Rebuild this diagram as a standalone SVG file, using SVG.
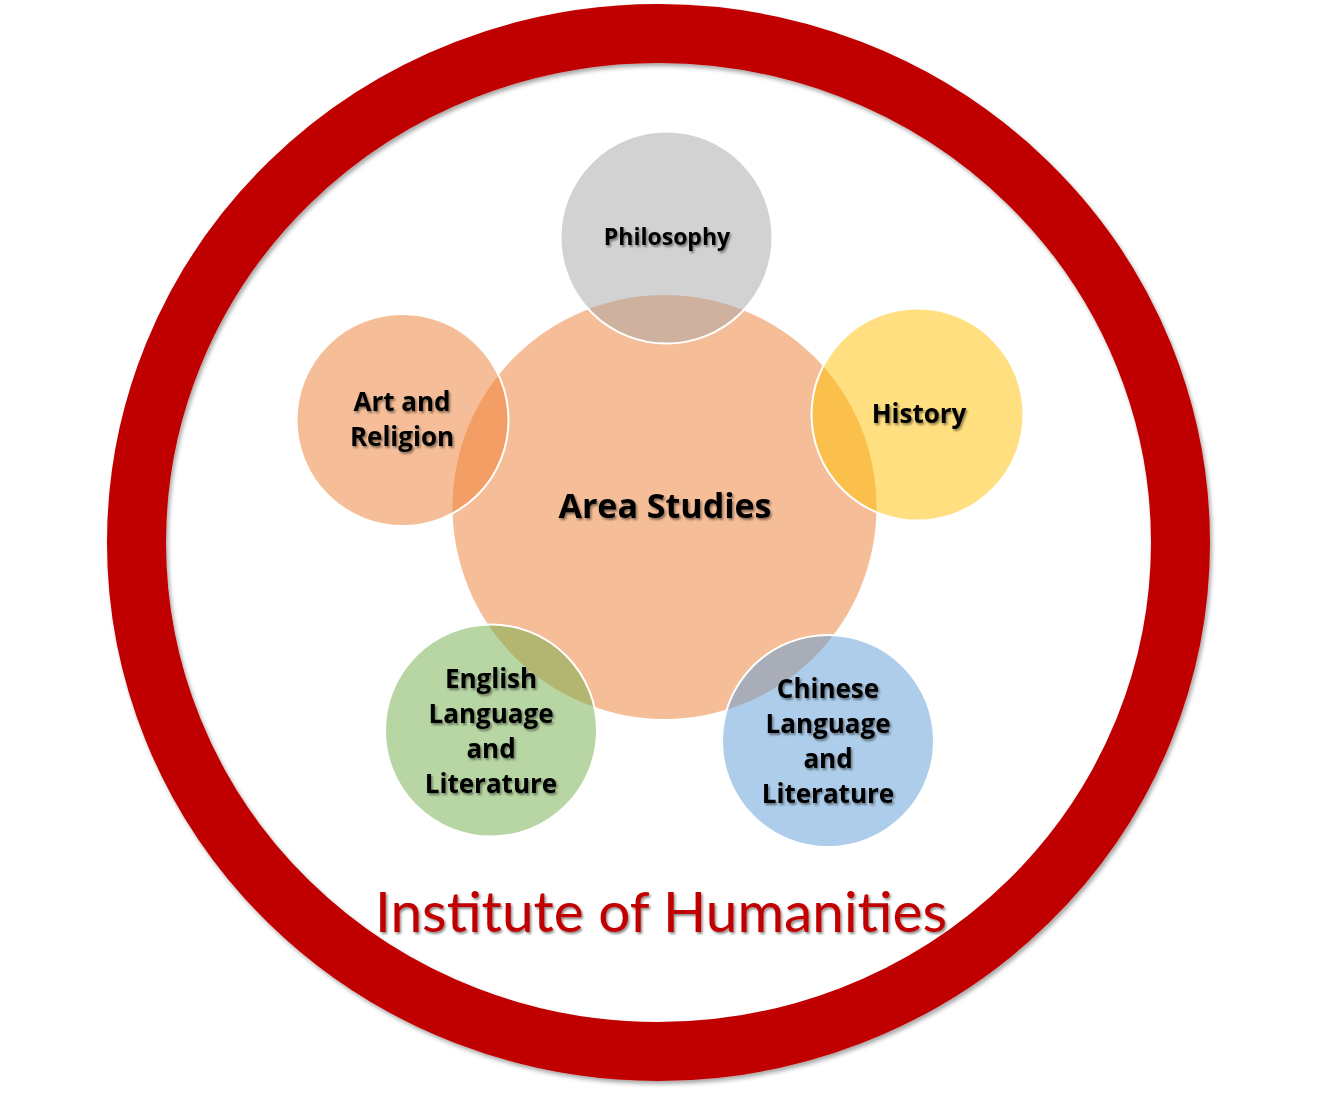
<svg xmlns="http://www.w3.org/2000/svg" width="1319" height="1094" viewBox="0 0 1319 1094">
<defs>
<filter id="sh" x="-10%" y="-10%" width="120%" height="120%">
<feDropShadow dx="2" dy="3" stdDeviation="2" flood-color="#000" flood-opacity="0.35"/>
</filter>
<filter id="tsh" x="-10%" y="-20%" width="120%" height="150%">
<feDropShadow dx="1.5" dy="2" stdDeviation="1.2" flood-color="#000" flood-opacity="0.45"/>
</filter>
</defs>
<style>
.lbl{font-family:"Open Sans","Noto Sans","Liberation Sans",sans-serif;font-weight:700;fill:#000;text-anchor:middle;filter:url(#tsh)}
.sat{stroke:#fff;stroke-width:2}
</style>
<rect width="1319" height="1094" fill="#fff"/>
<g id="ring">
<ellipse cx="658.5" cy="542.5" rx="522" ry="509" fill="none" stroke="#C00000" stroke-width="59" filter="url(#sh)"/>
</g>
<g id="area-studies">
<circle cx="664.5" cy="507" r="212" fill="#ED7D31" fill-opacity="0.5"/>
<text class="lbl" x="665" y="518" font-size="34">Area Studies</text>
</g>
<g id="philosophy">
<circle class="sat" cx="666.5" cy="237.5" r="106" fill="#A5A5A5" fill-opacity="0.5"/>
<text class="lbl" x="667" y="245" font-size="23">Philosophy</text>
</g>
<g id="history">
<circle class="sat" cx="917.5" cy="414.5" r="106" fill="#FFC000" fill-opacity="0.5"/>
<text class="lbl" x="919" y="423" font-size="26">History</text>
</g>
<g id="art-religion">
<circle class="sat" cx="402.5" cy="420" r="106" fill="#ED7D31" fill-opacity="0.5"/>
<text class="lbl" x="402" y="411" font-size="26">Art and</text>
<text class="lbl" x="402" y="446" font-size="26">Religion</text>
</g>
<g id="english">
<circle class="sat" cx="491" cy="730.5" r="106" fill="#70AD47" fill-opacity="0.5"/>
<text class="lbl" x="491" y="688" font-size="26">English</text>
<text class="lbl" x="491" y="723" font-size="26">Language</text>
<text class="lbl" x="491" y="758" font-size="26">and</text>
<text class="lbl" x="491" y="793" font-size="26">Literature</text>
</g>
<g id="chinese">
<circle class="sat" cx="828" cy="741" r="106" fill="#5B9BD5" fill-opacity="0.5"/>
<text class="lbl" x="828" y="698" font-size="26">Chinese</text>
<text class="lbl" x="828" y="733" font-size="26">Language</text>
<text class="lbl" x="828" y="768" font-size="26">and</text>
<text class="lbl" x="828" y="803" font-size="26">Literature</text>
</g>
<g id="title">
<text x="661" y="932" font-family="Lato,'Open Sans','Liberation Sans',sans-serif" font-size="57" fill="#C00000" text-anchor="middle" textLength="572" lengthAdjust="spacingAndGlyphs" filter="url(#tsh)">Institute of Humanities</text>
</g>
</svg>
